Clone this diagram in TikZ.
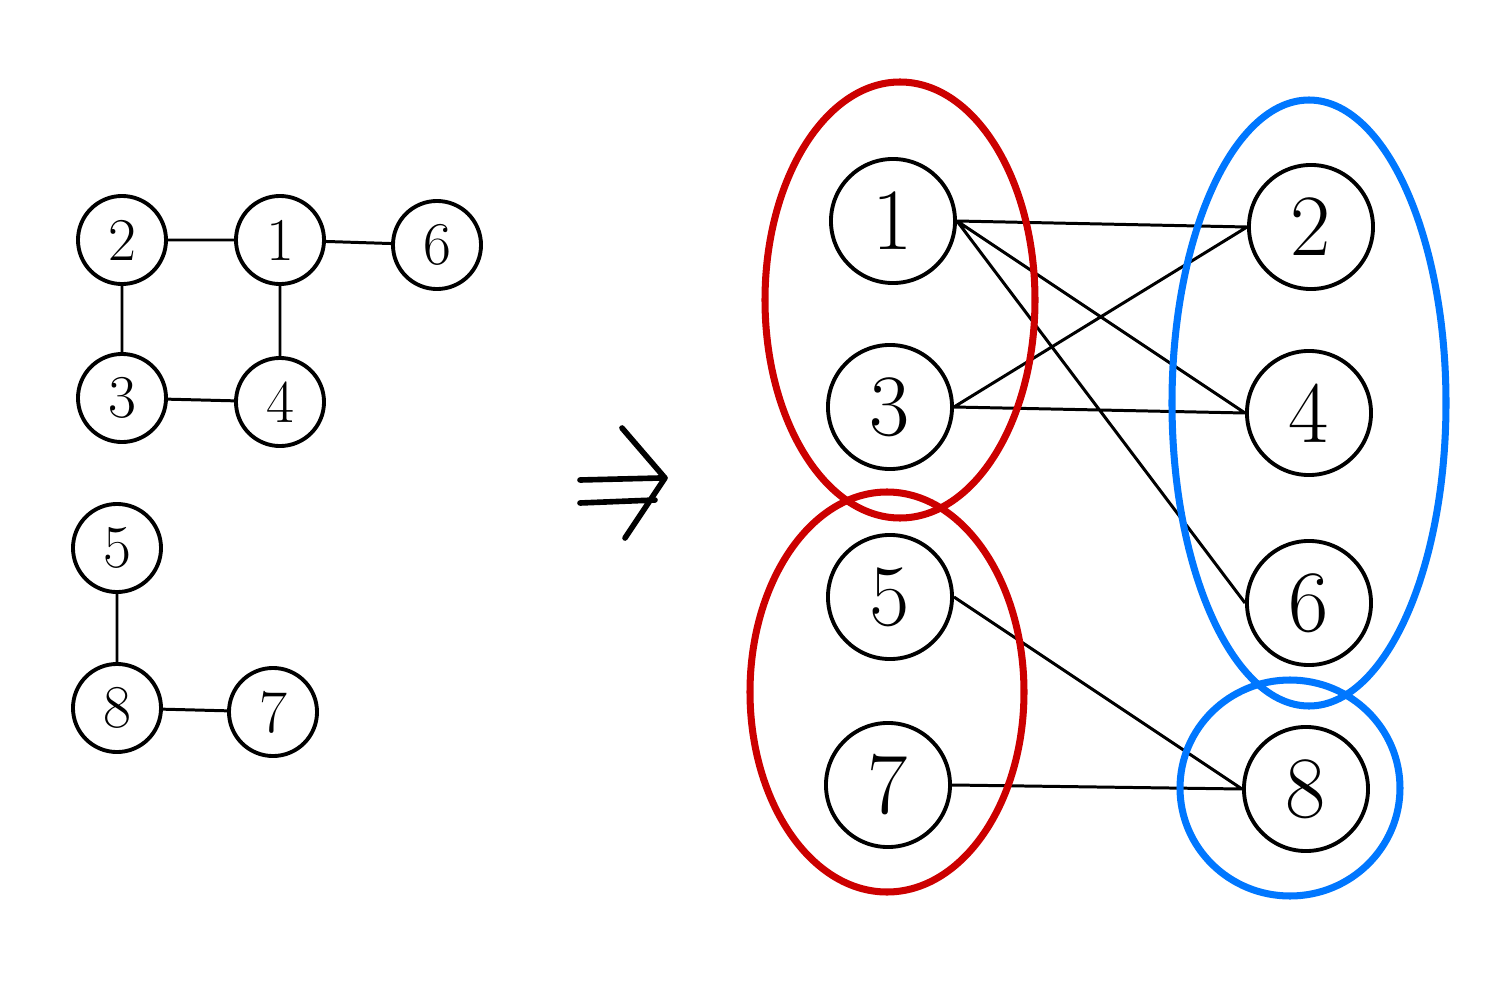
\documentclass[tikz,border=0pt]{standalone}
\begin{document}
\begin{tikzpicture}[x=0.01cm,y=-0.01cm,
 sm/.style={circle,draw,line width=1.1pt,minimum size=88\pgflinewidth*0+0.88cm,inner sep=0pt,font=\LARGE},
 bg/.style={circle,draw,line width=1.1pt,minimum size=1.24cm,inner sep=0pt,font=\Huge},
 ed/.style={line width=0.85pt},
 red/.style={draw={rgb,255:red,204;green,0;blue,0},line width=2pt},
 blu/.style={draw={rgb,255:red,0;green,119;blue,255},line width=2pt}]
\useasboundingbox (0,0) rectangle (1511,1000);
\node[sm] (a2) at (122,240) {2};
\node[sm] (a1) at (280,240) {1};
\node[sm] (a6) at (437,245) {6};
\node[sm] (a3) at (122,398) {3};
\node[sm] (a4) at (280,402) {4};
\node[sm] (a5) at (117,548) {5};
\node[sm] (a8) at (117,708) {8};
\node[sm] (a7) at (273,712) {7};
\draw[ed] (a2)--(a1) (a1)--(a6) (a2)--(a3) (a1)--(a4) (a3)--(a4) (a5)--(a8) (a8)--(a7);
\draw[line width=1.6pt,line cap=round,line join=round] (580,480)--(660,478) (580,503)--(655,500) (622,428)--(665,478)--(625,538);
\node[bg] (b1) at (893,221) {1};
\node[bg] (b3) at (890,407) {3};
\node[bg] (b5) at (890,597) {5};
\node[bg] (b7) at (888,785) {7};
\node[bg] (b2) at (1311,227) {2};
\node[bg] (b4) at (1309,413) {4};
\node[bg] (b6) at (1309,603) {6};
\node[bg] (b8) at (1306,789) {8};
\draw[ed] (b1.east)--(b2.west) (b1.east)--(b4.west) (b1.east)--(b6.west) (b3.east)--(b2.west) (b3.east)--(b4.west) (b5.east)--(b8.west) (b7.east)--(b8.west);
\draw[red] (900,300) ellipse [x radius=135,y radius=218];
\draw[red] (887,692) ellipse [x radius=137,y radius=200];
\draw[blu] (1309,403) ellipse [x radius=137,y radius=303];
\draw[blu] (1290,788) ellipse [x radius=110,y radius=108];
\end{tikzpicture}
\end{document}
